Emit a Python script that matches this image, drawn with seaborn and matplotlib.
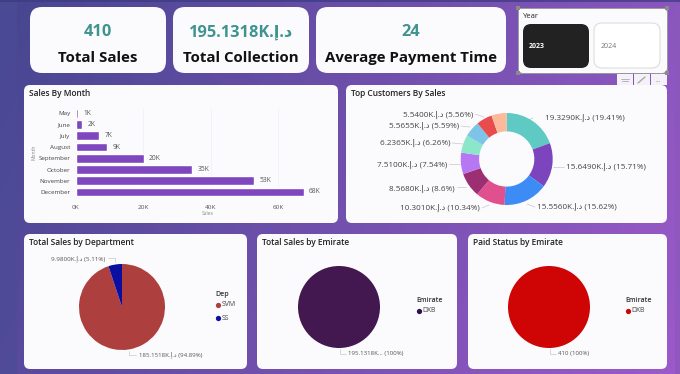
import numpy as np
import matplotlib
matplotlib.use('Agg')
import matplotlib.pyplot as plt
from matplotlib.patches import FancyBboxPatch, Rectangle
import seaborn as sb

# data
months = ['May', 'June', 'July', 'August', 'September', 'October', 'November', 'December']
month_sales = [600, 2000, 7000, 9400, 20100, 34600, 52700, 67500]
sales_ticks = [0, 20000, 40000, 60000]

customer_sales = [19.329, 15.649, 15.556, 10.301, 8.568, 7.51, 6.2365, 5.5655, 5.54, 5.33]
customer_labels = ['19.3290K.إ.د (19.41%)', '15.6490K.إ.د (15.71%)', '15.5560K.إ.د (15.62%)',
                   '10.3010K.إ.د (10.34%)', '8.5680K.إ.د (8.6%)', '7.5100K.إ.د (7.54%)',
                   '6.2365K.إ.د (6.26%)', '5.5655K.إ.د (5.59%)', '5.5400K.إ.د (5.56%)']
customer_colors = ['#5fc9c3', '#7c45bd', '#3d8bf5', '#e0508f', '#9c2f72',
                   '#b877f2', '#8ce6c9', '#7cc4e8', '#e84c4c', '#fdb99b']

dep_names = ['SVM', 'SS']
dep_sales = [185.1518, 9.98]
dep_colors = ['#ae3f3f', '#0a0fa0']

W, H = 680, 374
sb.set_theme(style='white')
plt.rcParams['font.family'] = ['Open Sans', 'DejaVu Sans']

fig = plt.figure(figsize=(W / 100, H / 100), dpi=100)


def px_axes(x0, y0, x1, y1):
    return fig.add_axes([x0 / W, 1 - y1 / H, (x1 - x0) / W, (y1 - y0) / H])


# background gradient
bg = px_axes(0, 0, W, H)
yy, xx = np.mgrid[0:1:187j, 0:1:340j]
t = (0.8 * xx + 0.2 * yy)[..., None]
grad = (1 - t) * np.array([0x46, 0x46, 0x90]) + t * np.array([0x9c, 0x5a, 0xca])
bg.imshow(grad / 255, extent=[0, W, H, 0], aspect='auto', interpolation='bilinear')
bg.set_xlim(0, W)
bg.set_ylim(H, 0)
bg.axis('off')
bg.add_patch(Rectangle((0, 0), 17, H, color='#4c4c98', lw=0, alpha=0.6))
bg.add_patch(Rectangle((675, 0), 5, H, color='#8a58b8', lw=0, alpha=0.6))
bg.add_patch(Rectangle((0, 0), W, 2, color='#3a3a80', lw=0, alpha=0.7))


def card(x0, y0, x1, y1, r=6, fc='#fbfbfe', ec='none', lw=0):
    bg.add_patch(FancyBboxPatch((x0 + r, y0 + r), x1 - x0 - 2 * r, y1 - y0 - 2 * r,
                                boxstyle='round,pad=%d,rounding_size=%d' % (r, r),
                                fc=fc, ec=ec, lw=lw))


# kpi cards
kpis = [(30, 166, '410', 'Total Sales'),
        (173, 309, '195.1318K.إ.د', 'Total Collection'),
        (316, 506, '24', 'Average Payment Time')]
for x0, x1, val, name in kpis:
    card(x0, y0=7, x1=x1, y1=73, r=12)
    bg.text((x0 + x1) / 2, 32, val, color='#3f9490', fontsize=11.8, fontweight='bold',
            ha='center', va='center')
    bg.text((x0 + x1) / 2, 57.5, name, color='#111111', fontsize=10.8, fontweight='bold',
            ha='center', va='center')

# year slicer
card(518, 8, 667, 73, r=5)
for sx, sy in [(518, 8), (667, 8), (518, 73), (667, 73)]:
    bg.plot([sx], [sy], marker='s', ms=3.5, color='#8a8a8a', mew=0)
bg.add_patch(Rectangle((518, 8), 149, 65, fc='none', ec='#9a9a9a', lw=0.7))
bg.text(523, 16, 'Year', fontsize=5.5, color='#222222', va='center')
card(523, 24, 589, 68, r=8, fc='#222222')
card(594, 23, 660, 68, r=8, fc='#ffffff', ec='#dddddd', lw=0.8)
bg.text(529, 46, '2023', fontsize=5, color='white', fontweight='bold', va='center')
bg.text(601, 46, '2024', fontsize=5, color='#777777', va='center')
for bx in [617, 634, 651]:
    bg.add_patch(Rectangle((bx, 74), 15.5, 11, fc='#f4f2f8', ec='none'))
bg.plot([621, 629], [79, 79], color='#aaaaaa', lw=0.6)
bg.plot([622, 628], [81, 81], color='#aaaaaa', lw=0.6)
bg.plot([638, 645], [83, 77], color='#aaaaaa', lw=1.0)
bg.text(658.5, 80, '...', fontsize=5, color='#888888', ha='center', va='center')

# lower cards
card(24, 85, 338, 223)
card(346, 85, 667, 223)
card(24, 234, 247, 369)
card(257, 234, 457, 369)
card(468, 234, 667, 369)
titles = [(29, 93, 'Sales By Month'), (351, 93, 'Top Customers By Sales'),
          (29, 242, 'Total Sales by Department'), (262, 242, 'Total Sales by Emirate'),
          (473, 242, 'Paid Status by Emirate')]
for tx, ty, s in titles:
    bg.text(tx, ty, s, fontsize=6.0, color='#222222', fontweight='semibold', va='center')

# sales by month
ax = px_axes(75.7, 107.7, 340, 197.6)
ax.patch.set_alpha(0)
sb.barplot(y=months, x=month_sales, color='#7f47bf', saturation=1, width=0.78, ax=ax)
ax.set_xlim(0, 78300)
ax.set_xticks(sales_ticks)
ax.set_xticklabels(['0K', '20K', '40K', '60K'])
ax.tick_params(axis='x', labelsize=4.6, labelcolor='#555555', length=0, pad=5)
ax.tick_params(axis='y', labelsize=4.5, labelcolor='#444444', length=0, pad=4)
ax.set_xlabel('Sales', fontsize=3.6, color='#888888', labelpad=1)
ax.set_ylabel('Month', fontsize=3.6, color='#888888', labelpad=1)
ax.xaxis.grid(True, color='#f0eff4', lw=0.5)
ax.set_axisbelow(True)
sb.despine(ax=ax, left=True, bottom=True)
ax.bar_label(ax.containers[0], labels=['%.0fK' % (v / 1000) for v in month_sales],
             fontsize=4.8, color='#555555', padding=4)

# top customers donut
ax2 = px_axes(506.7 - 46, 159 - 46, 506.7 + 46, 159 + 46)
ax2.pie(customer_sales, colors=customer_colors, startangle=90, counterclock=False, radius=1,
        wedgeprops={'width': 0.4, 'edgecolor': 'none'})
ax2.set_xlim(-1, 1)
ax2.set_ylim(-1, 1)
cust_pos = [(545, 118, 'left', [(533, 118), (528, 120)]),
            (566, 167, 'left', [(564, 167), (553, 167)]),
            (537, 207, 'left', [(535, 207), (527, 204)]),
            (480, 208, 'right', [(482, 208), (489, 205)]),
            (455, 189, 'right', [(457, 187), (466, 187)]),
            (447, 165, 'right', [(449, 164), (460, 164)]),
            (450, 143, 'right', [(452, 143), (463, 144)]),
            (459, 126, 'right', [(461, 126), (470, 127)]),
            (473, 115, 'right', [(475, 114), (484, 117)])]
for s, (lx, ly, ha, pts) in zip(customer_labels, cust_pos):
    bg.text(lx, ly, s, fontsize=5.9, color='#444444', ha=ha, va='center')
    bg.plot([pts[0][0], pts[1][0]], [pts[0][1], pts[1][1]], color='#c8c8c8', lw=0.5)
bg.set_xlim(0, W)
bg.set_ylim(H, 0)

# department pie
ax3 = px_axes(122 - 43, 307 - 43, 122 + 43, 307 + 43)
ax3.pie(dep_sales, colors=dep_colors, startangle=90, counterclock=False, radius=1,
        wedgeprops={'edgecolor': 'none'})
ax3.set_xlim(-1, 1)
ax3.set_ylim(-1, 1)
bg.text(51, 259, '9.9800K.إ.د (5.11%)', fontsize=4.5, color='#555555', va='center')
bg.plot([108, 115, 115], [258, 258, 262], color='#c8c8c8', lw=0.5)
bg.text(139, 355, '185.1518K.إ.د (94.89%)', fontsize=4.4, color='#555555', va='center')
bg.plot([129, 129, 136], [351, 355, 355], color='#c8c8c8', lw=0.5)

# emirate pies
for cx, col, lab, lx in [(339, '#43174f', '195.1318K... (100%)', 348), (549, '#cf0404', '410 (100%)', 558)]:
    axp = px_axes(cx - 41, 307 - 41, cx + 41, 307 + 41)
    axp.pie([100], colors=[col], startangle=90, radius=1, wedgeprops={'edgecolor': 'none'})
    axp.set_xlim(-1, 1)
    axp.set_ylim(-1, 1)
    bg.text(lx, 353.5, lab, fontsize=4.4, color='#555555', va='center')
    bg.plot([cx + 1, cx + 1, lx - 2], [349, 353.5, 353.5], color='#c8c8c8', lw=0.5)

# legends
legends = [(215, 294, 'Dep', [('SVM', dep_colors[0]), ('SS', dep_colors[1])]),
           (416, 300, 'Emirate', [('DXB', '#2b0f4f')]),
           (625, 300, 'Emirate', [('DXB', '#cf0404')])]
for lx, ly, ttl, items in legends:
    bg.text(lx, ly, ttl, fontsize=5.0, color='#333333', fontweight='semibold', va='center')
    for i, (name, col) in enumerate(items):
        iy = ly + 11 + i * 13
        bg.plot([lx + 3], [iy], marker='o', ms=3.8, color=col, mew=0)
        bg.text(lx + 6.5, iy, name, fontsize=5.0, color='#444444', va='center')

fig.savefig('out.png', dpi=100)
